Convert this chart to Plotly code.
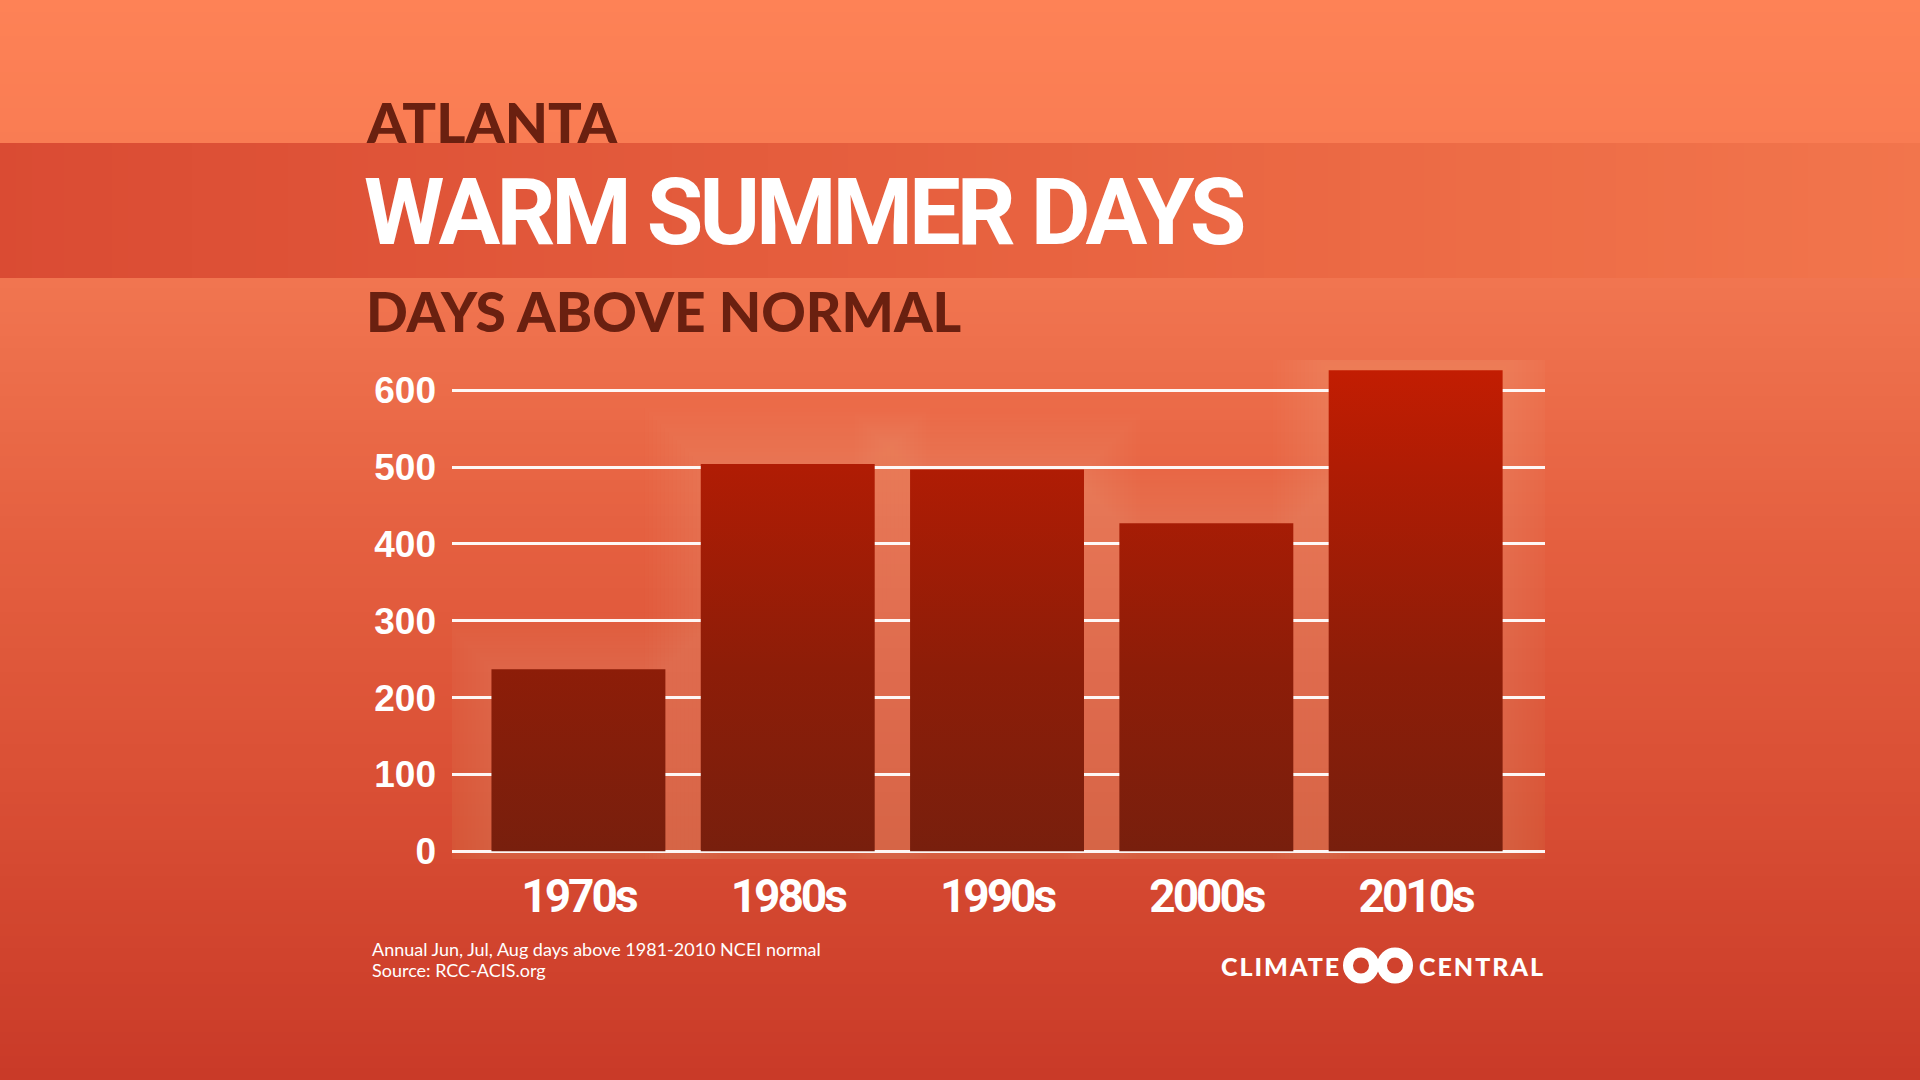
import plotly.graph_objects as go

# ---------------- data ----------------
decades = ["1970s", "1980s", "1990s", "2000s", "2010s"]
days_above_normal = [237, 504, 497, 427, 626]
y_tick_values = [0, 100, 200, 300, 400, 500, 600]
y_tick_labels = ["0", "100", "200", "300", "400", "500", "600"]

kicker = "ATLANTA"
title = "WARM SUMMER DAYS"
subtitle = "DAYS ABOVE NORMAL"
note_1 = "Annual Jun, Jul, Aug days above 1981-2010 NCEI normal"
note_2 = "Source: RCC-ACIS.org"

W, H = 1920, 1080
COND = "Roboto, 'Liberation Sans', sans-serif"
TIGHT = "<span style='letter-spacing:{}px'>{}</span>"


def px(x):
    return x / W


def py(y):
    return 1 - y / H


def hex2rgb(h):
    h = h.lstrip("#")
    return tuple(int(h[i:i + 2], 16) for i in (0, 2, 4))


def lerp_color(stops, t):
    for (p0, c0), (p1, c1) in zip(stops[:-1], stops[1:]):
        if p0 <= t <= p1:
            f = 0 if p1 == p0 else (t - p0) / (p1 - p0)
            a, b = hex2rgb(c0), hex2rgb(c1)
            return "rgb(%d,%d,%d)" % tuple(round(a[i] + (b[i] - a[i]) * f) for i in range(3))
    return stops[-1][1]


shapes = []

# ---------------- background (vertical gradient) ----------------
bg_stops = [(0, "#fe8256"), (140, "#f97c53"), (280, "#f17550"), (550, "#e45f3f"),
            (800, "#d94e34"), (1080, "#c93a28")]
step = 12
for y0 in range(0, H, step):
    top = y0 if y0 > 0 else -40
    bot = min(H, y0 + step + 1)
    if bot >= H:
        bot = H + 40
    shapes.append(dict(type="rect", xref="paper", yref="paper", layer="below",
                       x0=-0.02, x1=1.02, y0=py(bot), y1=py(top),
                       fillcolor=lerp_color(bg_stops, min(H, y0 + step / 2)), line_width=0))

# title band (horizontal gradient)
band_top, band_bot = 143, 278
band_stops = [(0, "#da4b33"), (960, "#e7613f"), (1920, "#f2754c")]
bstep = 16
for x0 in range(0, W, bstep):
    shapes.append(dict(type="rect", xref="paper", yref="paper", layer="below",
                       x0=px(x0 if x0 > 0 else -20), x1=px(min(W + 20, x0 + bstep + 1)),
                       y0=py(band_bot), y1=py(band_top),
                       fillcolor=lerp_color(band_stops, x0 + bstep / 2), line_width=0))

# ---------------- chart geometry ----------------
x_range = [-0.604, 4.618]
x_dom = [px(452), px(1545)]
y_range = [-10, 640]
y_dom = [py(859.0), py(359.5)]
px_per_x = (1545 - 452) / (x_range[1] - x_range[0])
px_per_y = (859.0 - 359.5) / (y_range[1] - y_range[0])
bar_w = 0.831

# soft glow behind bars
for i, v in enumerate(days_above_normal):
    for k in range(1, 15):
        pad = k * 4
        shapes.append(dict(type="rect", xref="x", yref="y", layer="below",
                           x0=i - bar_w / 2 - pad / px_per_x, x1=i + bar_w / 2 + pad / px_per_x,
                           y0=0 - pad / px_per_y, y1=v + pad / px_per_y,
                           fillcolor="rgba(250,150,115,0.024)", line_width=0))

fig = go.Figure()

top_val = max(days_above_normal)
for i, (cat, v) in enumerate(zip(decades, days_above_normal)):
    l, r = i - bar_w / 2, i + bar_w / 2
    fig.add_trace(go.Scatter(
        x=[l, r, r, l, l], y=[0, 0, v, v, 0], mode="lines", fill="toself",
        line=dict(width=0, color="rgba(0,0,0,0)"),
        fillgradient=dict(type="vertical", start=0, stop=top_val,
                          colorscale=[[0, "#781f0d"], [0.38, "#8d1d08"],
                                      [0.8, "#b01c04"], [1, "#c21d02"]]),
        name=cat, hovertemplate=cat + ": %{text}<extra></extra>", text=[v] * 5,
        showlegend=False))

# ---------------- annotations ----------------
annotations = []
annotations.append(dict(text=kicker, x=px(364), y=py(122), xref="paper", yref="paper",
                        xanchor="left", yanchor="middle", showarrow=False,
                        font=dict(family="Lato, 'Open Sans', sans-serif", size=56, weight=900,
                                  color="#6a2010")))
annotations.append(dict(text=TIGHT.format(-4, title), x=px(362), y=py(212), xref="paper", yref="paper",
                        xanchor="left", yanchor="middle", showarrow=False,
                        font=dict(family=COND, size=92, weight=700, color="#ffffff")))
annotations.append(dict(text=subtitle, x=px(364), y=py(310.5), xref="paper", yref="paper",
                        xanchor="left", yanchor="middle", showarrow=False,
                        font=dict(family="Lato, 'Open Sans', sans-serif", size=55, weight=900,
                                  color="#6a2010")))
annotations.append(dict(text=note_1, x=px(370), y=py(949), xref="paper", yref="paper",
                        xanchor="left", yanchor="middle", showarrow=False,
                        font=dict(family="Lato, sans-serif", size=18, color="#ffffff")))
annotations.append(dict(text=note_2, x=px(370), y=py(970), xref="paper", yref="paper",
                        xanchor="left", yanchor="middle", showarrow=False,
                        font=dict(family="Lato, sans-serif", size=18, color="#ffffff")))
# logo
annotations.append(dict(text=TIGHT.format(2, "CLIMATE"), x=px(1219), y=py(966),
                        xref="paper", yref="paper", xanchor="left", yanchor="middle", showarrow=False,
                        font=dict(family="Lato, sans-serif", size=25, weight=900, color="#ffffff")))
annotations.append(dict(text=TIGHT.format(2, "CENTRAL"), x=px(1547), y=py(966),
                        xref="paper", yref="paper", xanchor="right", yanchor="middle", showarrow=False,
                        font=dict(family="Lato, sans-serif", size=25, weight=900, color="#ffffff")))
for cx in (1361, 1395):
    r = 13
    shapes.append(dict(type="circle", xref="paper", yref="paper", layer="above",
                       x0=px(cx - r), x1=px(cx + r), y0=py(965.5 + r), y1=py(965.5 - r),
                       line=dict(color="#ffffff", width=10), fillcolor="rgba(0,0,0,0)"))

fig.update_layout(
    width=W, height=H,
    margin=dict(l=0, r=0, t=0, b=0, pad=0, autoexpand=False),
    paper_bgcolor="#c93a28",
    plot_bgcolor="rgba(0,0,0,0)",
    showlegend=False,
    shapes=shapes,
    annotations=annotations,
    xaxis=dict(domain=x_dom, range=x_range, showgrid=False, zeroline=False, showline=False,
               tickmode="array", tickvals=list(range(len(decades))),
               ticktext=[TIGHT.format(-3, d) for d in decades],
               ticks="", ticklabelstandoff=6, automargin=False,
               tickfont=dict(family=COND, size=46, weight=700, color="#ffffff"),
               fixedrange=True),
    yaxis=dict(domain=y_dom, range=y_range, showgrid=True, gridcolor="rgba(255,255,255,0.95)",
               gridwidth=2.5, zeroline=False, showline=False, automargin=False,
               tickmode="array", tickvals=y_tick_values, ticktext=y_tick_labels,
               ticks="", ticklabelstandoff=15,
               tickfont=dict(family="'Liberation Sans', Arial, sans-serif",
                             size=37, weight=700, color="#ffffff"),
               fixedrange=True),
)

fig.write_html("out.html")
